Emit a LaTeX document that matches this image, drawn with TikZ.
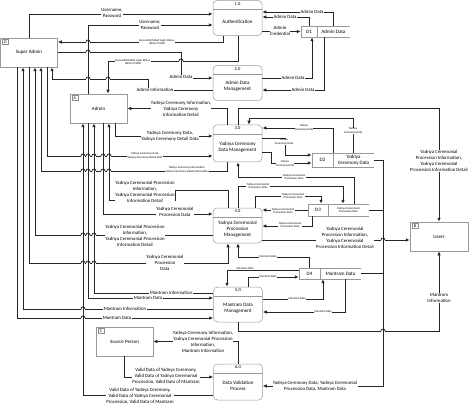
\documentclass[tikz,border=0pt]{standalone}
\usepackage{fontspec}
\setmainfont{Carlito}
\usetikzlibrary{arrows.meta, positioning}
\tikzstyle{entity} = [rectangle, minimum width=57pt, minimum height=29pt, text centered, draw=black!40, line width=0.5pt, font=\fontsize{5}{6}\selectfont]
\tikzstyle{entitytag} = [rectangle, minimum width=6pt, minimum height=5pt, inner sep=0pt, draw=black!45, line width=0.4pt, font=\fontsize{4.2}{4.5}\selectfont]
\tikzstyle{process} = [rectangle, rounded corners=4pt, minimum width=49pt, minimum height=35pt, draw=black!40, line width=0.5pt, path picture={\draw[black!40, line width=0.5pt] ([yshift=-9pt]path picture bounding box.north west) -- ([yshift=-9pt]path picture bounding box.north east);}]
\tikzstyle{storeid} = [rectangle, minimum height=11pt, inner sep=0pt, draw=black!40, line width=0.5pt, font=\fontsize{5}{6}\selectfont]
\tikzstyle{storetext} = [rectangle, minimum height=11pt, inner sep=0pt, align=center, font=\fontsize{5}{6}\selectfont]
\tikzstyle{storeline} = [draw=black!40, line width=0.5pt]
\tikzstyle{line} = [draw=black!85, line width=0.8pt]
\tikzstyle{arrow} = [line, -{Latex[length=4pt,width=3.5pt]}]
\tikzstyle{lbl} = [fill=white, inner sep=0.4pt, align=center, font=\fontsize{4.8}{5.8}\selectfont]
\tikzstyle{tinylbl} = [fill=white, inner sep=0.3pt, align=center, font=\fontsize{2.9}{3.6}\selectfont]
\tikzset{
  procid/.style={label={[anchor=north, yshift=-2pt, inner sep=0pt, font=\fontsize{4.5}{5}\selectfont]north:#1}},
  proctext/.style={label={[align=center, yshift=-3.5pt, inner sep=0pt, font=\fontsize{5}{6.2}\selectfont]center:{#1}}}
}
\begin{document}
\begin{tikzpicture}[x=1pt, y=-1pt]
\useasboundingbox (0,0) rectangle (474,409);
% external entities
\node (sa) [entity] at (29,52.5) {Super Admin};
\node (adm) [entity] at (98.5,108.5) {Admin};
\node (usr) [entity, minimum width=58pt] at (439,236.5) {Users};
\node (src) [entity] at (124.5,341.5) {Source Person};
\node (satag) [entitytag, anchor=north west] at ([xshift=2pt, yshift=-1.5pt]sa.north west) {D};
\node (admtag) [entitytag, anchor=north west] at ([xshift=2pt, yshift=-1.5pt]adm.north west) {A};
\node (usrtag) [entitytag, anchor=north west] at ([xshift=2pt, yshift=-1.5pt]usr.north west) {B};
\node (srctag) [entitytag, anchor=north west] at ([xshift=2pt, yshift=-1.5pt]src.north west) {C};
% processes
\node (p1) [process, procid=1.0, proctext=Authentication] at (237.5,18) {};
\node (p2) [process, procid=2.0, proctext={Admin Data\\Management}] at (237.5,83) {};
\node (p3) [process, procid=3.0, minimum height=37pt, proctext={Yadnya Ceremony\\Data Management}] at (237.5,143.5) {};
\node (p4) [process, procid=4.0, proctext={Yadnya Ceremonial\\Procession\\Management}] at (237.5,225.5) {};
\node (p5) [process, procid=5.0, proctext={Mantram Data\\Management}] at (238,304.5) {};
\node (p6) [process, procid=6.0, minimum height=36pt, proctext={Data Validation\\Process}] at (238,382) {};
% data stores
\node (d1) [storeid, minimum width=16pt] at (309,31.5) {D1};
\node (d1t) [storetext, minimum width=32pt, right=0pt of d1] {Admin Data};
\node (d2) [storeid, minimum width=21pt, minimum height=14pt] at (322.5,160) {D2};
\node (d2t) [storetext, minimum width=40pt, minimum height=14pt, right=0pt of d2] {Yadnya\\Ceremony Data};
\node (d3) [storeid, minimum width=20pt, minimum height=12pt] at (318,210) {D3};
\node (d3t) [storetext, minimum width=40pt, minimum height=12pt, right=0pt of d3, font=\fontsize{2.9}{3.6}\selectfont] {Yadnya Ceremonial\\Procession Data};
\node (d4) [storeid, minimum width=21pt] at (309.5,273.5) {D4};
\node (d4t) [storetext, minimum width=40pt, right=0pt of d4] {Mantram Data};
\draw [storeline] (d1t.north west) -- (d1t.north east) (d1t.south west) -- (d1t.south east);
\draw [storeline] (d2t.north west) -- (d2t.north east) (d2t.south west) -- (d2t.south east);
\draw [storeline] (d3t.north west) -- (d3t.north east) (d3t.south west) -- (d3t.south east);
\draw [storeline] (d4t.north west) -- (d4t.north east) (d4t.south west) -- (d4t.south east);
% authentication
\draw [arrow] (sa.north -| 29,0) |- (p1.west |- 0,14) node[lbl] at (112,13) {Username,\\Password};
\draw [arrow] (adm.north -| 88,0) |- (p1.west |- 0,25) node[lbl] at (150,25) {Username,\\Password};
\draw [arrow] (p1.south -| 223,0) |- (sa.east |- 0,42) node[tinylbl] at (157,42) {Successful/Failed Login Status,\\Admin Profile};
\draw [arrow] (p1.south -| 238,0) |- (108,61) -- (adm.north -| 108,0) node[tinylbl] at (133,62) {Successful/Failed Login Status,\\Admin Profile};
\draw [arrow] (p1.east |- d1.west) -- (d1.west) node[lbl] at (280,31) {Admin\\Credential};
\draw [arrow] (d1t.north) |- (p1.east |- 0,12) node[lbl] at (312,12) {Admin Data};
\draw [arrow] (d1.north) |- (p1.east |- 0,17) node[lbl] at (285,17) {Admin Data};
% admin data management
\draw [arrow] (sa.east |- 0,52) -| (181,78) -- (p2.west |- 0,78) node[lbl] at (181,77) {Admin Data};
\draw [arrow] (p2.west |- 0,90) -| (148,79) -| (sa.south -| 52,0) node[lbl] at (155,90) {Admin Information};
\draw [arrow] (p2.east |- 0,78) -| (d1.south -| 312,0) node[lbl] at (293,78) {Admin Data};
\draw [arrow] (d1t.south -| 324,0) |- (p2.east |- 0,90) node[lbl] at (303,90) {Admin Data};
% yadnya ceremony
\draw [arrow] (p3.north -| 227,0) |- (adm.east) node[lbl] at (181,109) {Yadnya Ceremony Information,\\Yadnya Ceremony\\Information Detail};
\draw [arrow] (adm.south -| 115,0) |- (p3.west |- 0,136) node[lbl] at (170,136) {Yadnya Ceremony Data,\\Yadnya Ceremony Detail Data};
\draw [arrow] (sa.south -| 47,0) |- (p3.west |- 0,156) node[tinylbl] at (145,156) {Yadnya Ceremony Data,\\Yadnya Ceremony Detail Data};
\draw [arrow] (p3.south -| 227,0) |- (41,171) -- (sa.south -| 41,0) node[tinylbl] at (187,170) {Yadnya Ceremony Information,\\Yadnya Ceremony Detail Information};
\draw [arrow] (p3.north -| 238,0) |- (439,108) -- (usr.north) node[lbl] at (439,161) {Yadnya Ceremonial\\Procession Information,\\Yadnya Ceremonial\\Procession Information Detail};
\draw [arrow] (d2t.north) |- (249,118) -- (p3.north -| 249,0) node[tinylbl] at (353,131) {Yadnya\\Ceremony Data};
\draw [arrow] (d2.north east) |- (p3.east |- 0,128) node[tinylbl] at (304,128) {Yadnya\\Ceremony Data};
\draw [arrow] (p3.east |- 0,138) -| (285,155) -- (d2.west |- 0,155) node[tinylbl] at (284,142) {Yadnya\\Ceremony Data};
\draw [arrow] (p3.east |- 0,152) -| (271,163) -- (d2.west |- 0,163) node[tinylbl] at (285,164) {Yadnya\\Ceremony Data};
% yadnya ceremonial procession
\draw [arrow] (d3t.north -| 354,0) |- (238,177) -- (p3.south -| 238,0) node[tinylbl] at (294,177) {Yadnya Ceremonial\\Procession Data};
\draw [arrow] (p4.north -| 238,0) |- (343,186) -- (d3t.north -| 343,0) node[tinylbl] at (258,186) {Yadnya Ceremonial\\Procession Data};
\draw [arrow] (p4.north -| 255,0) |- (321,196) -- (d3.north -| 321,0) node[tinylbl] at (293,196) {Yadnya Ceremonial\\Procession Data};
\draw [arrow] (d3.west) -- (p4.east |- d3.west) node[tinylbl] at (283,211) {Yadnya Ceremonial\\Procession Data};
\draw [arrow] (d3.south -| 312,0) |- (p4.east |- 0,226) node[tinylbl] at (290,225) {Yadnya Ceremonial\\Procession Data};
\draw [arrow] (p4.north -| 228,0) |- (175,190) |- (109,200) -- (adm.south -| 109,0) node[lbl] at (145,192) {Yadnya Ceremonial Procession\\Information,\\Yadnya Ceremonial Procession\\Information Detail};
\draw [arrow] (adm.south -| 103,0) |- (p4.west |- 0,214) node[lbl] at (175,212) {Yadnya Ceremonial\\Procession Data};
\draw [arrow] (p4.west |- 0,235) -| (sa.south -| 35,0) node[lbl] at (135,236) {Yadnya Ceremonial Procession\\Information,\\Yadnya Ceremonial Procession\\Information Detail};
\draw [arrow] (sa.south -| 29,0) |- (228,263) -- (p4.south -| 228,0) node[lbl] at (165,263) {Yadnya Ceremonial\\Procession\\Data};
\draw [arrow] (p4.east |- 0,240) -- (usr.west |- 0,240) node[lbl] at (345,238) {Yadnya Ceremonial\\Procession Information,\\Yadnya Ceremonial\\Procession Information Detail};
% mantram
\draw [arrow] (d4.north) |- (238,257) -- (p4.south -| 238,0) node[tinylbl] at (268,257) {Mantram Data};
\draw [arrow] (d4.west |- 0,270) -| (p5.north -| 227,0) node[tinylbl] at (245,269) {Mantram Data};
\draw [arrow] (p5.north -| 248,0) |- (d4.west |- 0,277) node[tinylbl] at (268,277) {Mantram Data};
\draw [arrow] (p5.east |- 0,299) -| (d4t.south -| 323,0) node[tinylbl] at (297,299) {Mantram Data};
\draw [arrow] (d4t.south -| 345,0) |- (p5.east |- 0,312) node[tinylbl] at (323,312) {Mantram Data};
\draw [arrow] (p5.west |- 0,293) -| (adm.south -| 94,0) node[lbl] at (171,293) {Mantram Information};
\draw [arrow] (adm.south -| 88,0) |- (p5.west |- 0,298) node[lbl] at (148,298) {Mantram Data};
\draw [arrow] (p5.west |- 0,309) -| (sa.south -| 23,0) node[lbl] at (125,309) {Mantram Information};
\draw [arrow] (sa.south -| 17,0) |- (p5.west |- 0,318) node[lbl] at (117,318) {Mantram Data};
\draw [arrow] (p5.south -| 238,0) |- (439,331) -- (usr.south) node[lbl] at (439,298) {Mantram\\Information};
% data validation
\draw [line] (d3t.east) -- (d3t.east -| 383,0);
\draw [line] (d4t.east) -- (d4t.east -| 383,0);
\draw [arrow] (d2t.east) -| (383,386) -- (p6.east |- 0,386) node[lbl] at (315,386) {Yadnya Ceremony Data, Yadnya Ceremonial\\Procession Data, Mantram Data};
\draw [arrow] (src.south -| 124,0) |- (p6.west |- 0,377) node[lbl] at (166,376) {Valid Data of Yadnya Ceremony,\\Valid Data of Yadnya Ceremonial\\Procession, Valid Data of Mantram};
\draw [arrow] (p6.west |- 0,395) -| (adm.south -| 83,0) node[lbl] at (140,396) {Valid Data of Yadnya Ceremony,\\Valid Data of Yadnya Ceremonial\\Procession, Valid Data of Mantram};
\draw [arrow] (p6.north -| 238,0) |- (src.east) node[lbl] at (203,342) {Yadnya Ceremony Information,\\Yadnya Ceremonial Procession\\Information,\\Mantram Information};
% line hops
\foreach \hx/\hy in {88/42, 88/52, 181/61, 88/79, 108/79, 83/156, 88/156, 94/156, 103/156, 109/156, 83/171, 88/171, 94/171, 103/171, 109/171, 83/235, 88/235, 94/235, 83/263, 88/263, 94/263, 83/309, 83/318, 383/240, 383/331} {
  \fill [white] (\hx-2.3,\hy-0.8) rectangle (\hx+2.3,\hy+0.8);
  \draw [line] (\hx,\hy-1.6) -- (\hx,\hy+1.6);
  \draw [line] (\hx-2,\hy) arc[start angle=180, end angle=0, radius=2pt];
}
\end{tikzpicture}
\end{document}
